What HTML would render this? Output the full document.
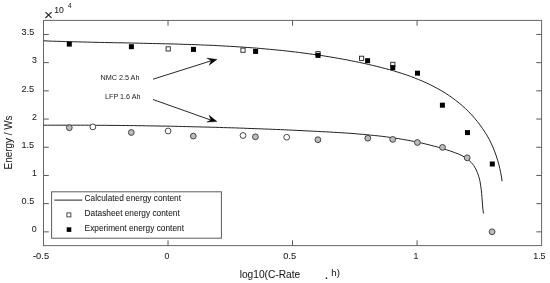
<!DOCTYPE html>
<html><head><meta charset="utf-8"><title>Energy vs log10(C-Rate)</title>
<style>
html,body{margin:0;padding:0;background:#fff;}
body{width:550px;height:283px;overflow:hidden;}
svg{display:block;}
svg text{font-family:"Liberation Sans",sans-serif;fill:#1a1a1a;stroke:#1a1a1a;stroke-width:0.06px;}
</style></head><body>
<svg width="550" height="283" viewBox="0 0 550 283">
<rect width="550" height="283" fill="#fff"/>
<rect x="43.5" y="20.4" width="498.10" height="225.20" fill="none" stroke="#666" stroke-width="1"/>
<path d="M168.03 20.4v5.3M168.03 245.6v-5.3" stroke="#585858" stroke-width="1" fill="none"/>
<path d="M292.55 20.4v5.3M292.55 245.6v-5.3" stroke="#585858" stroke-width="1" fill="none"/>
<path d="M417.08 20.4v5.3M417.08 245.6v-5.3" stroke="#585858" stroke-width="1" fill="none"/>
<path d="M43.5 34.45h5.3M541.6 34.45h-5.3" stroke="#585858" stroke-width="1" fill="none"/>
<path d="M43.5 62.65h5.3M541.6 62.65h-5.3" stroke="#585858" stroke-width="1" fill="none"/>
<path d="M43.5 90.85h5.3M541.6 90.85h-5.3" stroke="#585858" stroke-width="1" fill="none"/>
<path d="M43.5 119.05h5.3M541.6 119.05h-5.3" stroke="#585858" stroke-width="1" fill="none"/>
<path d="M43.5 147.25h5.3M541.6 147.25h-5.3" stroke="#585858" stroke-width="1" fill="none"/>
<path d="M43.5 175.45h5.3M541.6 175.45h-5.3" stroke="#585858" stroke-width="1" fill="none"/>
<path d="M43.5 203.65h5.3M541.6 203.65h-5.3" stroke="#585858" stroke-width="1" fill="none"/>
<path d="M43.5 231.85h5.3M541.6 231.85h-5.3" stroke="#585858" stroke-width="1" fill="none"/>
<path d="M43.7 40.8L48.1 41.0L52.4 41.2L56.8 41.3L61.1 41.4L65.5 41.6L69.8 41.7L74.2 41.8L78.6 41.9L82.9 42.0L87.3 42.1L91.6 42.2L96.0 42.3L100.3 42.4L104.7 42.5L109.0 42.6L113.4 42.7L117.7 42.8L122.1 42.8L126.4 42.9L130.8 43.0L135.1 43.1L139.5 43.2L143.8 43.3L148.2 43.4L152.5 43.5L156.8 43.6L161.2 43.7L165.5 43.8L169.9 43.9L174.2 44.0L178.6 44.1L182.9 44.3L187.2 44.4L191.6 44.5L195.9 44.7L200.3 44.9L204.6 45.1L208.9 45.2L213.3 45.4L217.6 45.6L221.9 45.9L226.2 46.1L230.6 46.4L234.9 46.6L239.2 46.9L243.6 47.2L247.9 47.5L252.2 47.8L256.5 48.1L260.8 48.5L265.2 48.9L269.5 49.3L273.8 49.7L278.1 50.1L282.4 50.5L286.7 51.0L291.0 51.5L295.4 52.0L299.7 52.5L304.0 53.1L308.3 53.7L312.6 54.3L316.9 54.9L321.2 55.5L325.5 56.2L329.8 56.9L334.1 57.6L338.4 58.4L342.6 59.1L346.9 59.9L351.2 60.8L355.5 61.6L359.8 62.5L364.1 63.4L368.3 64.4L372.6 65.4L376.9 66.4L381.1 67.5L385.4 68.6L389.6 69.7L393.8 70.9L398.0 72.2L402.2 73.5L406.3 74.9L410.4 76.3L414.4 77.9L418.5 79.5L422.4 81.1L426.4 82.9L430.2 84.7L434.1 86.7L437.8 88.7L441.5 90.8L445.2 93.0L448.8 95.4L452.3 97.8L455.7 100.4L459.1 103.0L462.4 105.8L465.6 108.7L468.7 111.8L471.7 114.9L474.6 118.2L477.4 121.6L480.1 125.1L482.7 128.7L485.1 132.3L487.4 136.1L489.5 139.9L491.4 143.9L493.2 147.8L494.8 151.9L496.3 156.0L497.6 160.1L498.8 164.3L499.8 168.5L500.7 172.7L501.5 177.0L502.1 181.2" fill="none" stroke="#222" stroke-width="1" stroke-linejoin="round"/>
<path d="M43.5 125.2L47.6 125.2L51.7 125.2L55.8 125.2L59.9 125.2L64.0 125.2L68.1 125.2L72.2 125.2L76.2 125.2L80.3 125.2L84.4 125.2L88.5 125.2L92.6 125.3L96.7 125.3L100.8 125.3L104.9 125.3L109.0 125.4L113.1 125.4L117.1 125.4L121.2 125.5L125.3 125.5L129.4 125.6L133.5 125.6L137.6 125.7L141.7 125.7L145.7 125.8L149.8 125.9L153.9 125.9L158.0 126.0L162.1 126.1L166.2 126.1L170.3 126.2L174.3 126.3L178.4 126.4L182.5 126.5L186.6 126.6L190.7 126.7L194.8 126.8L198.8 126.9L202.9 127.0L207.0 127.1L211.1 127.2L215.2 127.3L219.3 127.4L223.3 127.6L227.4 127.7L231.5 127.8L235.6 127.9L239.7 128.1L243.8 128.2L247.8 128.4L251.9 128.5L256.0 128.7L260.1 128.8L264.2 129.0L268.3 129.1L272.3 129.3L276.4 129.5L280.5 129.6L284.6 129.8L288.7 130.0L292.8 130.2L296.9 130.4L301.0 130.6L305.0 130.8L309.1 131.0L313.2 131.2L317.3 131.4L321.4 131.6L325.5 131.8L329.6 132.0L333.7 132.3L337.8 132.5L341.9 132.8L345.9 133.0L350.0 133.3L354.1 133.6L358.2 134.0L362.3 134.3L366.3 134.7L370.4 135.1L374.5 135.5L378.5 135.9L382.6 136.4L386.7 136.9L390.7 137.5L394.7 138.1L398.8 138.7L402.8 139.4L406.8 140.1L410.8 140.8L414.9 141.6L418.9 142.5L422.9 143.3L426.8 144.3L430.8 145.3L434.8 146.3L438.7 147.4L442.7 148.6L446.6 149.8L450.5 151.1L454.4 152.5L458.3 153.9L461.9 155.6L465.4 157.6L468.5 159.8L471.3 162.5L473.8 165.6L475.8 169.0L477.5 172.7L478.8 176.7L479.9 180.8L480.6 185.1L481.2 189.3L481.7 193.6L482.0 197.9L482.3 202.0L482.6 206.0L483.0 209.9L483.5 213.5" fill="none" stroke="#222" stroke-width="1" stroke-linejoin="round"/>
<rect x="166.10" y="46.80" width="4.2" height="4.2" fill="#fff" stroke="#222" stroke-width="0.9"/>
<rect x="240.90" y="48.10" width="4.2" height="4.2" fill="#fff" stroke="#222" stroke-width="0.9"/>
<rect x="315.90" y="51.60" width="4.2" height="4.2" fill="#fff" stroke="#222" stroke-width="0.9"/>
<rect x="359.50" y="56.20" width="4.2" height="4.2" fill="#fff" stroke="#222" stroke-width="0.9"/>
<rect x="390.70" y="62.30" width="4.2" height="4.2" fill="#fff" stroke="#222" stroke-width="0.9"/>
<rect x="66.80" y="41.60" width="5" height="5" fill="#000"/>
<rect x="128.90" y="44.20" width="5" height="5" fill="#000"/>
<rect x="191.00" y="46.90" width="5" height="5" fill="#000"/>
<rect x="253.10" y="48.90" width="5" height="5" fill="#000"/>
<rect x="315.50" y="52.90" width="5" height="5" fill="#000"/>
<rect x="365.10" y="58.20" width="5" height="5" fill="#000"/>
<rect x="390.30" y="65.10" width="5" height="5" fill="#000"/>
<rect x="415.00" y="70.70" width="5" height="5" fill="#000"/>
<rect x="439.90" y="102.70" width="5" height="5" fill="#000"/>
<rect x="465.00" y="130.10" width="5" height="5" fill="#000"/>
<rect x="489.80" y="161.50" width="5" height="5" fill="#000"/>
<circle cx="92.90" cy="126.90" r="2.9" fill="#fff" stroke="#333" stroke-width="0.9"/>
<circle cx="168.10" cy="131.00" r="2.9" fill="#fff" stroke="#333" stroke-width="0.9"/>
<circle cx="243.00" cy="135.50" r="2.9" fill="#fff" stroke="#333" stroke-width="0.9"/>
<circle cx="286.70" cy="137.20" r="2.9" fill="#fff" stroke="#333" stroke-width="0.9"/>
<circle cx="69.30" cy="127.70" r="2.9" fill="#bdbdbd" stroke="#333" stroke-width="0.9"/>
<circle cx="131.30" cy="132.50" r="2.9" fill="#bdbdbd" stroke="#333" stroke-width="0.9"/>
<circle cx="193.30" cy="136.10" r="2.9" fill="#bdbdbd" stroke="#333" stroke-width="0.9"/>
<circle cx="255.40" cy="136.80" r="2.9" fill="#bdbdbd" stroke="#333" stroke-width="0.9"/>
<circle cx="317.90" cy="139.70" r="2.9" fill="#bdbdbd" stroke="#333" stroke-width="0.9"/>
<circle cx="367.80" cy="138.20" r="2.9" fill="#bdbdbd" stroke="#333" stroke-width="0.9"/>
<circle cx="392.70" cy="139.40" r="2.9" fill="#bdbdbd" stroke="#333" stroke-width="0.9"/>
<circle cx="417.40" cy="142.50" r="2.9" fill="#bdbdbd" stroke="#333" stroke-width="0.9"/>
<circle cx="442.50" cy="147.40" r="2.9" fill="#bdbdbd" stroke="#333" stroke-width="0.9"/>
<circle cx="467.20" cy="157.80" r="2.9" fill="#bdbdbd" stroke="#333" stroke-width="0.9"/>
<circle cx="492.10" cy="231.80" r="2.9" fill="#bdbdbd" stroke="#333" stroke-width="0.9"/>
<path d="M153 79.2L211.2 60.8" stroke="#111" stroke-width="0.9" fill="none"/>
<path d="M217 59.4L206.8 58.1L211.2 60.8L209.1 65.3Z" fill="#000" stroke="#000" stroke-width="0.35" stroke-linejoin="miter"/>
<path d="M153 99.5L210.9 120.1" stroke="#111" stroke-width="0.9" fill="none"/>
<path d="M217 121.6L209.1 115.2L210.9 120.1L206.8 122.1Z" fill="#000" stroke="#000" stroke-width="0.35" stroke-linejoin="miter"/>
<rect x="51.6" y="191.8" width="169.8" height="46.4" fill="#fff" stroke="#5c5c5c" stroke-width="1"/>
<path d="M54.3 200.1H82.3" stroke="#222" stroke-width="1"/>
<rect x="66.9" y="212.9" width="4" height="4" fill="#fff" stroke="#222" stroke-width="0.8"/>
<rect x="66.7" y="227.3" width="4.6" height="4.6" fill="#000"/>
<text x="84.6" y="200.7" font-size="8.8" text-anchor="start" textLength="96.4" lengthAdjust="spacingAndGlyphs">Calculated energy content</text>
<text x="84.6" y="215.5" font-size="8.8" text-anchor="start" textLength="95.1" lengthAdjust="spacingAndGlyphs">Datasheet energy content</text>
<text x="84.6" y="231.0" font-size="8.8" text-anchor="start" textLength="99.4" lengthAdjust="spacingAndGlyphs">Experiment energy content</text>
<text x="100.4" y="79.7" font-size="7.25" text-anchor="start" style="stroke:none">NMC 2.5 Ah</text>
<text x="105.0" y="98.8" font-size="7.2" text-anchor="start" style="stroke:none">LFP 1.6 Ah</text>
<text x="21.6" y="35.2" font-size="8.8" text-anchor="start" textLength="12.6" lengthAdjust="spacingAndGlyphs">3.5</text>
<text x="32.1" y="63.4" font-size="8.8" text-anchor="start">3</text>
<text x="21.4" y="91.7" font-size="8.8" text-anchor="start" textLength="12.8" lengthAdjust="spacingAndGlyphs">2.5</text>
<text x="32.0" y="119.7" font-size="8.8" text-anchor="start">2</text>
<text x="21.5" y="147.8" font-size="8.8" text-anchor="start" textLength="12.6" lengthAdjust="spacingAndGlyphs">1.5</text>
<text x="32.0" y="175.7" font-size="8.8" text-anchor="start">1</text>
<text x="21.6" y="204.0" font-size="8.8" text-anchor="start" textLength="12.6" lengthAdjust="spacingAndGlyphs">0.5</text>
<text x="31.8" y="232.3" font-size="8.8" text-anchor="start">0</text>
<text x="33.0" y="258.8" font-size="8.8" text-anchor="start" textLength="16.1" lengthAdjust="spacingAndGlyphs">-0.5</text>
<text x="164.5" y="258.8" font-size="8.8" text-anchor="start">0</text>
<text x="283.3" y="258.8" font-size="8.8" text-anchor="start" textLength="12.9" lengthAdjust="spacingAndGlyphs">0.5</text>
<text x="413.6" y="258.8" font-size="8.8" text-anchor="start">1</text>
<text x="533.2" y="258.8" font-size="8.8" text-anchor="start" textLength="12.4" lengthAdjust="spacingAndGlyphs">1.5</text>
<text x="239.7" y="278.4" font-size="10.6" text-anchor="start" textLength="60.6" lengthAdjust="spacingAndGlyphs">log10(C-Rate</text>
<text x="324.6" y="278.5" font-size="14" text-anchor="start">.</text>
<text x="331.3" y="275.7" font-size="9.7" text-anchor="start">h)</text>
<text transform="translate(12.3 169.4) rotate(-90)" font-size="10.6" textLength="53.8" lengthAdjust="spacingAndGlyphs">Energy / Ws</text>
<text x="43.9" y="19.65" font-size="15.5" text-anchor="start" style="stroke:none">×</text>
<text x="54.2" y="13.1" font-size="8.4" text-anchor="start" textLength="9.6" lengthAdjust="spacingAndGlyphs">10</text>
<text x="67.9" y="8.4" font-size="6.4" text-anchor="start">4</text>
</svg>
</body></html>
